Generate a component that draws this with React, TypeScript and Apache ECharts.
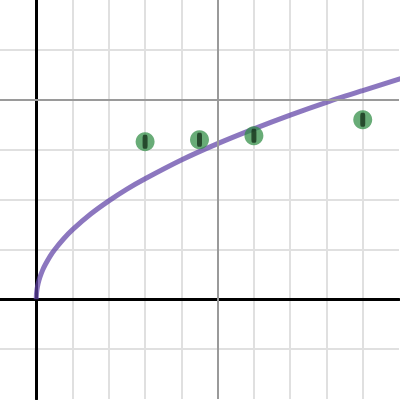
import React, { useEffect, useRef } from "react";
import * as echarts from "echarts";

// Data points (x, y)
const pointX = [0.6, 0.9, 1.2, 1.8];
const pointY = [0.79, 0.8, 0.82, 0.9];

// Fitted curve (x, y)
const curveX = [0, 0.001, 0.004, 0.01, 0.02, 0.035, 0.05, 0.075, 0.1, 0.15, 0.2, 0.3, 0.4, 0.5, 0.6, 0.8, 1.0, 1.2, 1.4, 1.6, 1.8, 2.0, 2.1];
const curveY = [0, 0.025, 0.049, 0.078, 0.11, 0.146, 0.174, 0.214, 0.247, 0.302, 0.349, 0.427, 0.493, 0.552, 0.604, 0.698, 0.78, 0.854, 0.923, 0.987, 1.046, 1.103, 1.13];

// Axis ranges and grid steps
const xRange = [-0.2, 2.0];
const yRange = [-0.5, 1.5];
const xStep = 0.2;
const yStep = 0.25;
const majorX = [1];
const majorY = [1];

export default function App() {
  const ref = useRef<HTMLDivElement>(null);
  useEffect(() => {
    if (!ref.current) return;
    const chart = echarts.init(ref.current, null, { renderer: "svg" });
    const pts = pointX.map((x, i) => [x, pointY[i]]);
    const curve = curveX.map((x, i) => [x, curveY[i]]);
    chart.setOption({
      animation: false,
      backgroundColor: "#ffffff",
      grid: { left: -1, top: -1, width: 400, height: 400, containLabel: false },
      xAxis: {
        type: "value",
        min: xRange[0],
        max: xRange[1],
        interval: xStep,
        axisLabel: { show: false },
        axisTick: { show: false },
        axisLine: { show: true, onZero: true, lineStyle: { color: "#000", width: 3 } },
        splitLine: { show: true, showMinLine: false, showMaxLine: false, lineStyle: { color: "#e0e0e0", width: 2 } },
      },
      yAxis: {
        type: "value",
        min: yRange[0],
        max: yRange[1],
        interval: yStep,
        axisLabel: { show: false },
        axisTick: { show: false },
        axisLine: { show: true, onZero: true, lineStyle: { color: "#000", width: 3 } },
        splitLine: { show: true, showMinLine: false, showMaxLine: false, lineStyle: { color: "#e0e0e0", width: 2 } },
      },
      series: [
        {
          type: "line",
          data: [],
          z: 1,
          silent: true,
          markLine: {
            silent: true,
            symbol: "none",
            label: { show: false },
            lineStyle: { color: "#9a9a9a", width: 2, type: "solid" },
            data: [...majorX.map((v) => ({ xAxis: v })), ...majorY.map((v) => ({ yAxis: v }))],
          },
        },
        {
          type: "line",
          data: curve,
          smooth: 0.3,
          showSymbol: false,
          clip: true,
          z: 3,
          lineStyle: { color: "rgba(96,66,166,0.72)", width: 5 },
        },
        {
          type: "scatter",
          data: pts,
          symbol: "circle",
          symbolSize: 19,
          z: 4,
          itemStyle: { color: "rgba(46,140,66,0.9)" },
        },
        {
          type: "scatter",
          data: pts,
          symbol: "roundRect",
          symbolSize: [5, 14],
          z: 5,
          itemStyle: { color: "#17331c" },
        },
      ],
    });
    return () => chart.dispose();
  }, []);
  return <div ref={ref} style={{ position: "fixed", left: 0, top: 0, width: 400, height: 400 }} />;
}
